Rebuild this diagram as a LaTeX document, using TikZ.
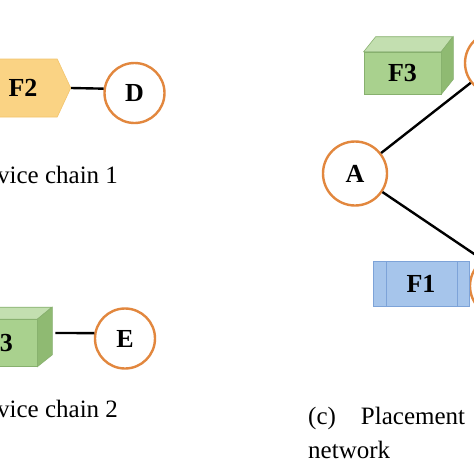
\documentclass[tikz,border=0pt]{standalone}
\usepackage{fontspec}
\setmainfont{Liberation Serif}
\usepackage{xcolor}
\usepackage{tikz}
\usetikzlibrary{
  shapes.symbols
}
\definecolor{node_orange}{HTML}{E2873E}
\definecolor{sig_fill}{HTML}{FAD384}
\definecolor{sig_edge}{HTML}{F3C46C}
\definecolor{cube_front}{HTML}{A9D18E}
\definecolor{cube_topc}{HTML}{C3DFB0}
\definecolor{cube_sidec}{HTML}{8FBA72}
\definecolor{cube_edge}{HTML}{87B06E}
\definecolor{proc_fill}{HTML}{A6C5EB}
\definecolor{proc_edge}{HTML}{7DA3D8}

\begin{document}
\begin{tikzpicture}[
        x=1pt,y=-1pt,
        netnode/.style={
            circle,
            draw=node_orange,
            line width=2.4pt,
            fill=white,
            minimum size=60pt,
            inner sep=0pt,
            font=\fontsize{26}{26}\selectfont\bfseries
          },func_signal/.style={
            signal,
            signal to=east,
            signal pointer angle=130,
            fill=sig_fill,
            draw=sig_edge,
            line width=0.6pt,
            minimum width=82pt,
            minimum height=58pt,
            inner sep=0pt,
            font=\fontsize{26}{26}\selectfont\bfseries
          },func_cube/.style={
            rectangle,
            fill=cube_front,
            draw=cube_edge,
            line width=0.6pt,
            minimum width=77pt,
            inner sep=0pt,
            font=\fontsize{26}{26}\selectfont\bfseries
          },cube_top/.style={
            fill=cube_topc,
            draw=cube_edge,
            line width=0.6pt
          },cube_side/.style={
            fill=cube_sidec,
            draw=cube_edge,
            line width=0.6pt
          },func_proc/.style={
            rectangle,
            fill=proc_fill,
            draw=proc_edge,
            line width=0.8pt,
            minimum width=96pt,
            minimum height=45pt,
            inner sep=0pt,
            font=\fontsize{26}{26}\selectfont\bfseries,
            path picture={
                \draw[proc_edge, line width=0.8pt]
                  ([xshift=13pt]path picture bounding box.north west) --
                  ([xshift=13pt]path picture bounding box.south west);
                \draw[proc_edge, line width=0.8pt]
                  ([xshift=-12pt]path picture bounding box.north east) --
                  ([xshift=-12pt]path picture bounding box.south east);
              }
          },link/.style={
            line width=2.4pt,
            black
          },caption/.style={
            inner sep=0pt,
            anchor=base west,
            font=\fontsize{25}{30}\selectfont
          }
      ]
      % 描画範囲
      \useasboundingbox[fill=white] (0,0) rectangle (474,474);
      \clip (0,0) rectangle (474,474);

      % (a) サービスチェーン1
      \node (f2) [func_signal] at (23,88) {F2};
      \node (d) [netnode] at (134.5,93) {D};
      \draw[link] (f2.east) -- (d.172);
      \node (cap_a) [caption] at (-3,183) {vice chain 1};

      % (b) サービスチェーン2
      \node (f3_b) [func_cube, minimum height=47pt] at (-1.5,343) {F3};
      \node (e) [netnode] at (125,338.5) {E};
      \draw[link] ([xshift=18pt,yshift=10pt]f3_b.east) -- (e.170);
      \node (cap_b) [caption] at (-3,417) {vice chain 2};

      % (c) ネットワークへの配置
      \node (f3_c) [func_cube, minimum height=42pt] at (402.5,73) {F3};
      \node (a) [netnode, minimum size=64pt] at (355,173.5) {A};
      \node (n_top) [netnode, minimum size=62pt] at (496,63) {};
      \node (n_bot) [netnode, minimum size=62pt] at (501,286) {};
      \draw[link] (a) -- (n_top);
      \draw[link] (a) -- (n_bot.125);
      \node (f1) [func_proc] at (421,283.5) {F1};
      \node (cap_c) [caption] at (308,424) {(c)\quad Placement};
      \node (cap_c2) [caption] at (308,458) {network};

      % 立方体の上面と側面
      \foreach \cube/\dx/\dy in {f3_b/15/12, f3_c/12/15} {
          \filldraw[cube_top] (\cube.north west) -- ++(\dx,-\dy) -- ++(77,0) -- (\cube.north east) -- cycle;
          \filldraw[cube_side] (\cube.north east) -- ++(\dx,-\dy) -- ([shift={(\dx,-\dy)}]\cube.south east) -- (\cube.south east) -- cycle;
        }

    \end{tikzpicture}
\end{document}
